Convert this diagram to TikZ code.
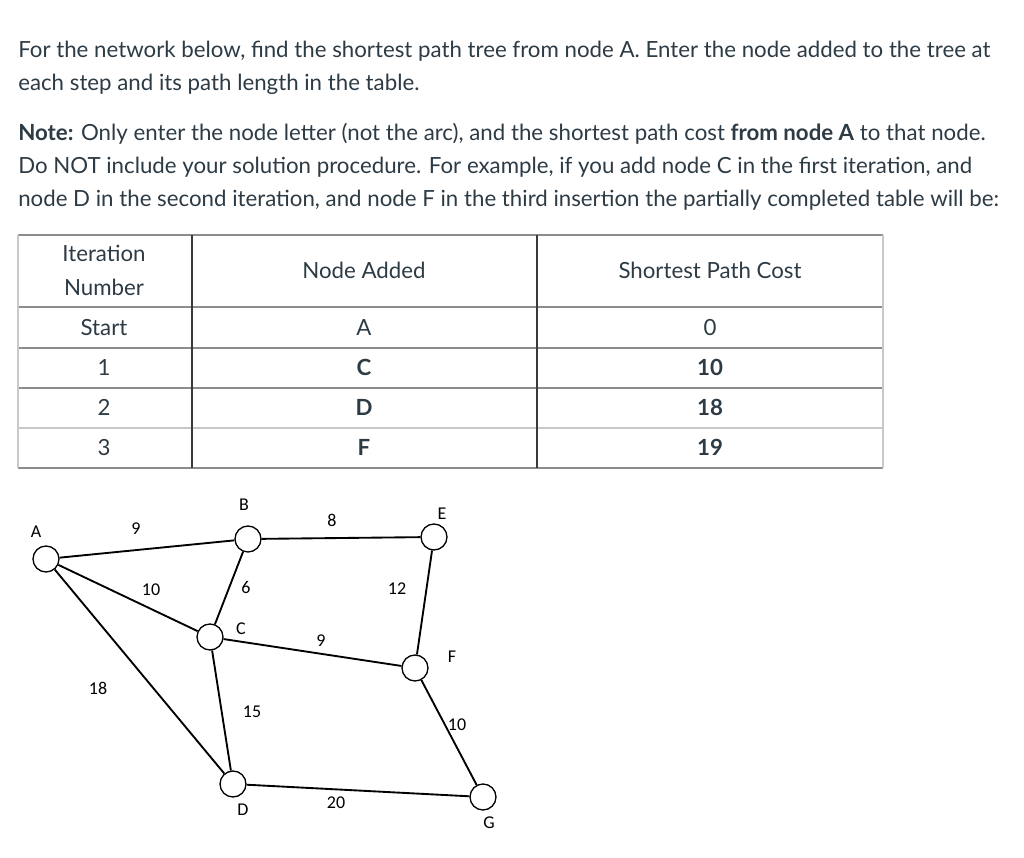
\documentclass[tikz,border=0pt]{standalone}
\usepackage{fontspec}
\setmainfont{Lato}
\newfontfamily\calib{Carlito}
\definecolor{txt}{HTML}{2D3B45}
\definecolor{hline}{HTML}{8C8C8C}
\definecolor{lightline}{HTML}{C8C8C8}
\definecolor{vline}{HTML}{3A3A3A}
\begin{document}
\begin{tikzpicture}[x=0.75pt,y=-0.75pt,
  para/.style={anchor=base west, inner sep=0, text=txt, font=\fontsize{16.7}{20}\selectfont},
  cell/.style={anchor=base, inner sep=0, text=txt, font=\fontsize{16.7}{20}\selectfont},
  bcell/.style={cell, font=\fontsize{16.7}{20}\selectfont\bfseries},
  vert/.style={circle, draw, line width=1pt, minimum size=19.5pt, inner sep=0},
  edge/.style={line width=1.4pt},
  lab/.style={inner sep=0, font=\calib\fontsize{13.5}{15}\selectfont},
  ]
\useasboundingbox (0,0) rectangle (1024,857);
\fill[white] (0,0) rectangle (1024,857);

% paragraph text
\node[para] (p1) at (18,57) {For the network below, find the shortest path tree from node A. Enter the node added to the tree at};
\node[para] (p2) at (18,90) {each step and its path length in the table.};
\node[para] (p3) at (18,140) {\textbf{Note:} Only enter the node letter (not the arc), and the shortest path cost \textbf{from node A} to that node.};
\node[para] (p4) at (18,173) {Do NOT include your solution procedure. For example, if you add node C in the first iteration, and};
\node[para] (p5) at (18,206) {node D in the second iteration, and node F in the third insertion the partially completed table will be:};

% table rules
\draw[hline, line width=1.3pt] (18,235) -- (883,235);
\draw[hline, line width=1.3pt] (18,307) -- (883,307);
\draw[hline, line width=1.3pt] (18,348) -- (883,348);
\draw[hline, line width=1.3pt] (18,388) -- (883,388);
\draw[lightline, line width=1.3pt] (18,428) -- (883,428);
\draw[hline, line width=1.3pt] (18,468) -- (883,468);
\draw[lightline, line width=1pt] (18,235) -- (18,468);
\draw[lightline, line width=1pt] (883,235) -- (883,468);
\draw[vline, line width=1pt] (192,235) -- (192,468);
\draw[vline, line width=1pt] (537,235) -- (537,468);

% table text
\node[cell] (h1a) at (104,261) {Iteration};
\node[cell] (h1b) at (104,295) {Number};
\node[cell] (h2) at (364,278) {Node Added};
\node[cell] (h3) at (710,278) {Shortest Path Cost};
\node[cell] (r0a) at (104,335) {Start};
\node[cell] (r0b) at (364,335) {A};
\node[cell] (r0c) at (710,335) {0};
\node[cell] (r1a) at (104,375) {1};
\node[bcell] (r1b) at (364,375) {C};
\node[bcell] (r1c) at (710,375) {10};
\node[cell] (r2a) at (104,415) {2};
\node[bcell] (r2b) at (364,415) {D};
\node[bcell] (r2c) at (710,415) {18};
\node[cell] (r3a) at (104,455) {3};
\node[bcell] (r3b) at (364,455) {F};
\node[bcell] (r3c) at (710,455) {19};

% graph vertices
\node[vert] (A) at (46,559) {};
\node[vert] (B) at (248,539) {};
\node[vert] (E) at (434,537) {};
\node[vert] (C) at (210,637) {};
\node[vert] (F) at (415,668) {};
\node[vert] (D) at (233,784) {};
\node[vert] (G) at (483,797) {};

% edges
\draw[edge] (A) -- (B);
\draw[edge] (B) -- (E);
\draw[edge] (A) -- (C);
\draw[edge] (B) -- (C);
\draw[edge] (E) -- (F);
\draw[edge] (C) -- (F);
\draw[edge] (A) -- (D);
\draw[edge] (C) -- (D);
\draw[edge] (F) -- (G);
\draw[edge] (D) -- (G);

% vertex labels
\node[lab] (lA) at (36,532) {A};
\node[lab] (lB) at (244,505) {B};
\node[lab] (lE) at (442,514) {E};
\node[lab] (lC) at (241,629) {C};
\node[lab] (lF) at (452,657) {F};
\node[lab] (lD) at (243,810) {D};
\node[lab] (lG) at (489,823) {G};

% edge labels
\node[lab] (wAB) at (136,529) {9};
\node[lab] (wBE) at (332,520) {8};
\node[lab] (wAC) at (151,590) {10};
\node[lab] (wBC) at (246,587) {6};
\node[lab] (wEF) at (397,589) {12};
\node[lab] (wCF) at (321,641) {9};
\node[lab] (wAD) at (98,688) {18};
\node[lab] (wCD) at (252,712) {15};
\node[lab] (wFG) at (457,725) {10};
\node[lab] (wDG) at (336,803) {20};
\end{tikzpicture}
\end{document}
